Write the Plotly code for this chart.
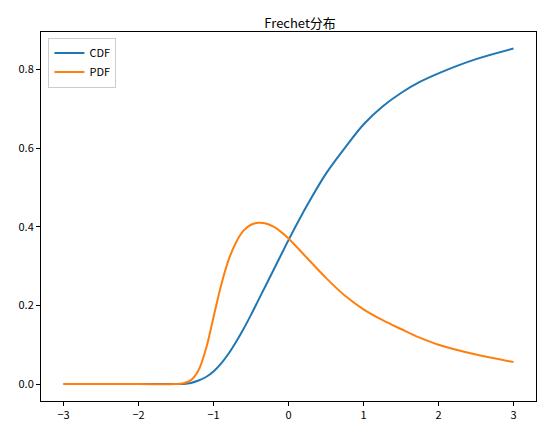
import plotly.graph_objects as go

x_cdf = [-3, -2, -1.5, -1.4, -1.3, -1.2, -1.1, -1.0, -0.9, -0.8, -0.7, -0.6, -0.5, -0.4, -0.3, -0.2, -0.1, 0, 0.25, 0.5, 0.75, 1.0, 1.25, 1.5, 1.75, 2.0, 2.5, 3.0]
y_cdf = [0, 0, 0, 0.0005, 0.003, 0.009, 0.018, 0.032, 0.052, 0.077, 0.107, 0.14, 0.176, 0.214, 0.252, 0.29, 0.328, 0.366, 0.455, 0.535, 0.60, 0.66, 0.705, 0.74, 0.768, 0.79, 0.826, 0.853]
x_pdf = [-3, -2, -1.5, -1.4, -1.3, -1.2, -1.1, -1.0, -0.9, -0.8, -0.7, -0.6, -0.5, -0.4, -0.3, -0.2, -0.1, 0, 0.25, 0.5, 0.75, 1.0, 1.25, 1.5, 1.75, 2.0, 2.5, 3.0]
y_pdf = [0, 0, 0, 0.002, 0.01, 0.035, 0.09, 0.17, 0.25, 0.315, 0.36, 0.39, 0.405, 0.41, 0.408, 0.40, 0.387, 0.37, 0.32, 0.27, 0.225, 0.19, 0.163, 0.14, 0.118, 0.10, 0.075, 0.056]

fig = go.Figure()
fig.add_trace(go.Scatter(x=x_cdf, y=y_cdf, mode="lines", name="CDF", line=dict(color="#1f77b4", width=2, shape="spline", smoothing=1)))
fig.add_trace(go.Scatter(x=x_pdf, y=y_pdf, mode="lines", name="PDF", line=dict(color="#ff7f0e", width=2, shape="spline", smoothing=1)))

ax = dict(showgrid=False, zeroline=False, showline=True, mirror=True, linecolor="black", linewidth=1,
          ticks="outside", ticklen=4, tickcolor="black")
fig.update_layout(
    width=546, height=433, plot_bgcolor="white", paper_bgcolor="white",
    font=dict(family="Noto Sans CJK SC", size=11, color="black"),
    title=dict(text="Frechet分布", x=0.535, xanchor="center", y=0.975, font=dict(size=13)),
    margin=dict(l=33, r=18, t=24, b=40),
    xaxis=dict(range=[-3.3, 3.3], tickvals=[-3, -2, -1, 0, 1, 2, 3], **ax),
    yaxis=dict(range=[-0.043, 0.895], tickvals=[0, 0.2, 0.4, 0.6, 0.8], tickformat=".1f", **ax),
    legend=dict(x=0.015, y=0.985, xanchor="left", yanchor="top", bordercolor="#ccc", borderwidth=1, bgcolor="white", font=dict(size=11)),
    showlegend=True,
)
fig.write_html("out.html")
